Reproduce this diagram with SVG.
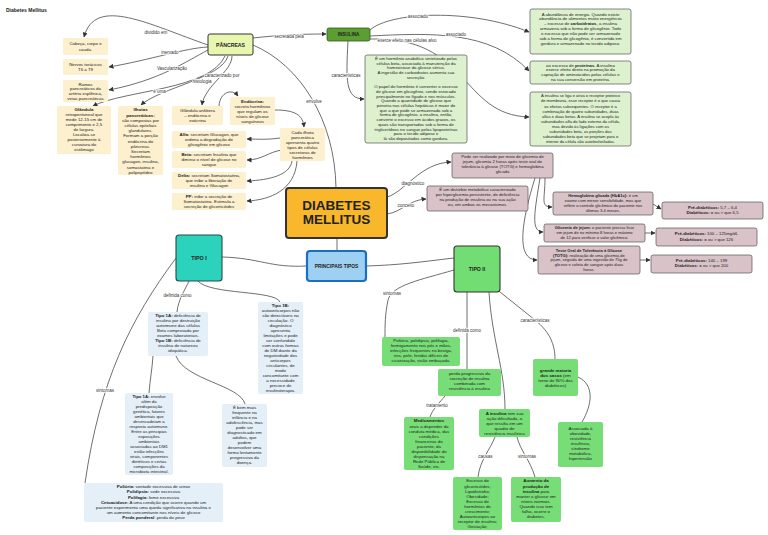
<svg xmlns="http://www.w3.org/2000/svg" width="768" height="535" viewBox="0 0 768 535">
<defs>
<marker id="ar" viewBox="0 0 10 10" refX="9" refY="5" markerWidth="5" markerHeight="5" markerUnits="userSpaceOnUse" orient="auto">
<path d="M0,0 L10,5 L0,10 z" fill="#333"/>
</marker>
<style>
text{font-family:"Liberation Sans",Arial,sans-serif;fill:#222}
.c{fill:none;stroke:#4a4a4a;stroke-width:0.8}
.ca{fill:none;stroke:#4a4a4a;stroke-width:0.8;marker-end:url(#ar)}
.lbl{font-size:4.5px;text-anchor:middle;fill:#333;stroke:#fff;stroke-width:1.6px;paint-order:stroke;stroke-linejoin:round}
.beige{fill:#fcf0cf}
.lg{fill:#ddf1cf;stroke:#555;stroke-width:0.7}
.mv{fill:#d9c3c8;stroke:#555;stroke-width:0.7}
.lb{fill:#e4eff8}
.gr{fill:#77dd77}
.t44{font-size:4.4px;text-anchor:middle}
.t43{font-size:4.3px;text-anchor:middle}
.t41{font-size:4.1px;text-anchor:middle}
.b{font-weight:bold}
</style>
</defs>
<rect width="768" height="535" fill="#fff"/>
<text x="6" y="11.5" font-size="5" font-weight="bold">Diabetes Mellitus</text>

<g id="connectors">
<path class="ca" d="M208,45 C150,25 95,-5 84,37"/>
<path class="ca" d="M208,47 C185,48 150,60 109,67"/>
<path class="ca" d="M208,50 C185,62 160,80 109,90"/>
<path class="ca" d="M225,56 C210,90 125,90 93,106"/>
<path class="ca" d="M228,56 C222,78 160,88 141,105"/>
<path class="ca" d="M232,56 C232,72 205,85 202,105"/>
<path class="ca" d="M219,106 C220,92 232,88 238,96"/>
<path class="ca" d="M275,110 C295,110 303,115 304,127"/>
<path class="ca" d="M280,138 C265,140 260,139 247,139"/>
<path class="ca" d="M282,150 C268,152 262,160 247,160"/>
<path class="ca" d="M292,161 C290,175 270,180 247,181"/>
<path class="ca" d="M297,161 C295,190 270,200 247,201"/>
<path class="c" d="M253,45 C300,65 335,120 336,188"/>
<path class="ca" d="M253,38 C280,35 300,34 326,34"/>
<path class="ca" d="M370,30 C390,12 470,8 529,32"/>
<path class="ca" d="M370,36 C430,33 490,30 529,71"/>
<path class="ca" d="M370,39 C470,36 460,115 529,117"/>
<path class="ca" d="M348,41 C346,80 345,99 364,99"/>
<path class="ca" d="M387,197 C405,192 420,163 451,162"/>
<path class="ca" d="M387,214 C402,212 408,200 426,199"/>
<path class="ca" d="M545,178 C545,200 540,207 552,207"/>
<path class="ca" d="M540,178 C535,210 530,232 543,232"/>
<path class="ca" d="M535,178 C522,220 515,260 537,260"/>
<path class="ca" d="M653,204 L661,209"/>
<path class="ca" d="M645,233 L655,233"/>
<path class="ca" d="M640,260 L650,260"/>
<path class="c" d="M337,238 L337,251"/>
<path class="c" d="M307,266 C270,268 260,258 222,257"/>
<path class="c" d="M366,266 C400,265 420,262 454,258"/>
<path class="c" d="M189,281 C185,290 178,300 177,312"/>
<path class="c" d="M198,281 C210,295 275,290 280,302"/>
<path class="c" d="M153,356 C152,370 150,380 149,393"/>
<path class="c" d="M176,356 C185,380 240,385 245,404"/>
<path class="c" d="M176,258 C130,320 100,380 85,483"/>
<path class="c" d="M454,270 C420,280 392,285 388,300 C385,315 385,325 385,337"/>
<path class="c" d="M467,292 L467,369"/>
<path class="c" d="M489,292 C492,340 505,370 505,409"/>
<path class="c" d="M500,292 L535,320 C550,332 555,345 555,359"/>
<path class="c" d="M578,377 C595,385 592,405 582,422"/>
<path class="c" d="M445,396 C440,402 432,410 430,417"/>
<path class="c" d="M495,437 C490,450 480,460 478,477"/>
<path class="c" d="M517,437 C520,450 530,460 535,477"/>
</g>

<g id="link-labels">
<text class="lbl" x="156" y="33.5">dividido em</text>
<text class="lbl" x="170" y="53.5">inervado</text>
<text class="lbl" x="172" y="69.5">Vascularização</text>
<text class="lbl" x="222" y="76.5">caracterizado por</text>
<text class="lbl" x="202" y="82.5">histologia</text>
<text class="lbl" x="159.5" y="92.5">é uma</text>
<text class="lbl" x="289" y="37.5">secretada pela</text>
<text class="lbl" x="314" y="102.5">envolve</text>
<text class="lbl" x="418" y="17.5">associado</text>
<text class="lbl" x="456" y="35.5">associado</text>
<text class="lbl" x="407" y="41.5">exerce efeito nas células alvo</text>
<text class="lbl" x="346" y="76.5">características</text>
<text class="lbl" x="413" y="184.5">diagnóstico</text>
<text class="lbl" x="406" y="206.5">conceito</text>
<text class="lbl" x="177.5" y="296.5">definida como</text>
<text class="lbl" x="105" y="391.5">sintomas</text>
<text class="lbl" x="392" y="294.5">sintomas</text>
<text class="lbl" x="467" y="331.5">definida como</text>
<text class="lbl" x="535" y="321.5">características</text>
<text class="lbl" x="437" y="407">tratamento</text>
<text class="lbl" x="485.5" y="457.5">causas</text>
<text class="lbl" x="527" y="457.5">sintomas</text>
</g>

<g id="pancreas">
<rect x="208" y="34" width="45" height="21" rx="2" fill="#e8f7b0" stroke="#333" stroke-width="1"/>
<text x="230.5" y="46.5" font-size="5.2" font-weight="bold" text-anchor="middle">PÂNCREAS</text>
</g>
<g id="insulina">
<rect x="327" y="28" width="43" height="13" rx="2" fill="#5c9e31" stroke="#2d5a17" stroke-width="0.8"/>
<text x="348.5" y="36.3" font-size="4.6" font-weight="bold" text-anchor="middle" fill="#1a2a10">INSULINA</text>
</g>

<g id="cabeca">
<rect class="beige" x="63" y="38" width="45" height="17" rx="1.5"/>
<text class="t44"><tspan x="85.5" y="45.3">Cabeça, corpo e</tspan><tspan x="85.5" y="50.5">cauda.</tspan></text>
</g>
<g id="nervos">
<rect class="beige" x="63" y="59" width="45" height="16" rx="1.5"/>
<text class="t44"><tspan x="85.5" y="66">Nervos torácicos</tspan><tspan x="85.5" y="71.2">T6 a T9</tspan></text>
</g>
<g id="ramos">
<rect class="beige" x="63" y="80" width="45" height="22" rx="1.5"/>
<text class="t44"><tspan x="85.5" y="85.5">Ramos</tspan><tspan x="85.5" y="90.3">pancreáticos da</tspan><tspan x="85.5" y="95.1">artéria esplênica,</tspan><tspan x="85.5" y="99.9">veias pancreáticas</tspan></text>
</g>
<g id="retroperitoneal">
<rect class="beige" x="57" y="106" width="54" height="48" rx="1.5"/>
<text class="t44"><tspan x="84" y="111.3" class="b">Glândula</tspan><tspan x="84" y="116.3">retroperitoneal que</tspan><tspan x="84" y="121.3">mede 12-15 cm de</tspan><tspan x="84" y="126.3">comprimento e 2,5</tspan><tspan x="84" y="131.3">de largura.</tspan><tspan x="84" y="136.3">Localiza-se</tspan><tspan x="84" y="141.3">posteriormente à</tspan><tspan x="84" y="146.3">curvatura do</tspan><tspan x="84" y="151.3">estômago</tspan></text>
</g>
<g id="ilhotas">
<rect class="beige" x="118" y="106" width="45" height="69" rx="1.5"/>
<text class="t44"><tspan x="140.5" y="111.3" class="b">Ilhotas</tspan><tspan x="140.5" y="116.5" class="b">pancreáticas:</tspan><tspan x="140.5" y="121.7">são compostas por</tspan><tspan x="140.5" y="126.9">células epiteliais</tspan><tspan x="140.5" y="132.1">glandulares.</tspan><tspan x="140.5" y="137.3">Formam a porção</tspan><tspan x="140.5" y="142.5">endócrina do</tspan><tspan x="140.5" y="147.7">pâncreas.</tspan><tspan x="140.5" y="152.9">Secretam</tspan><tspan x="140.5" y="158.1">hormônios</tspan><tspan x="140.5" y="163.3">glucagon, insulina,</tspan><tspan x="140.5" y="168.5">somastatina e</tspan><tspan x="140.5" y="173.7">polipeptídeo</tspan></text>
</g>
<g id="anfotera">
<rect class="beige" x="172" y="106" width="51" height="19" rx="1.5"/>
<text class="t44"><tspan x="197.5" y="111.8">Glândula anfótera</tspan><tspan x="197.5" y="116.8">– endócrina e</tspan><tspan x="197.5" y="121.8">exócrina</tspan></text>
</g>
<g id="endocrina">
<rect class="beige" x="230" y="97" width="45" height="28" rx="1.5"/>
<text class="t44"><tspan x="252.5" y="102.6" class="b">Endócrina:</tspan><tspan x="252.5" y="107.6">secreta hormônios</tspan><tspan x="252.5" y="112.6">que regulam os</tspan><tspan x="252.5" y="117.6">níveis de glicose</tspan><tspan x="252.5" y="122.6">sanguíneos</tspan></text>
</g>
<g id="cada-ilhota">
<rect class="beige" x="280" y="128" width="45" height="33" rx="1.5"/>
<text class="t44"><tspan x="302.5" y="133.6">Cada ilhota</tspan><tspan x="302.5" y="138.6">pancreática</tspan><tspan x="302.5" y="143.6">apresenta quatro</tspan><tspan x="302.5" y="148.6">tipos de células</tspan><tspan x="302.5" y="153.6">secretoras de</tspan><tspan x="302.5" y="158.6">hormônios</tspan></text>
</g>
<g id="alfa">
<rect class="beige" x="172" y="131" width="74" height="17" rx="1.5"/>
<text class="t44"><tspan x="209" y="136"><tspan class="b">Alfa:</tspan> secretam Glucagon, que</tspan><tspan x="209" y="141">ordena a degradação de</tspan><tspan x="209" y="146">glicogênio em glicose</tspan></text>
</g>
<g id="beta">
<rect class="beige" x="172" y="151" width="74" height="17" rx="1.5"/>
<text class="t44"><tspan x="209" y="156"><tspan class="b">Beta:</tspan> secretam Insulina que</tspan><tspan x="209" y="161">diminui o nível de glicose no</tspan><tspan x="209" y="166">sangue</tspan></text>
</g>
<g id="delta">
<rect class="beige" x="172" y="172" width="74" height="17" rx="1.5"/>
<text class="t44"><tspan x="209" y="177"><tspan class="b">Delta:</tspan> secretam Somatostatina,</tspan><tspan x="209" y="182">que inibe a liberação de</tspan><tspan x="209" y="187">insulina e Glucagon</tspan></text>
</g>
<g id="pp">
<rect class="beige" x="172" y="193" width="74" height="17" rx="1.5"/>
<text class="t44"><tspan x="209" y="198"><tspan class="b">PP:</tspan> inibe a secreção de</tspan><tspan x="209" y="203">Somatostatina. Estimula a</tspan><tspan x="209" y="208">secreção de glicorticóides</tspan></text>
</g>

<g id="insulina-desc">
<rect class="lg" x="365" y="55" width="102" height="88" rx="2"/>
<text class="t43"><tspan x="416" y="60">É um hormônio anabólico sintetizado pelas</tspan><tspan x="416" y="64.7">células beta, associada à manutenção da</tspan><tspan x="416" y="69.4">homeostase da glicose sérica.</tspan><tspan x="416" y="74.1">A ingestão de carboidratos aumenta sua</tspan><tspan x="416" y="78.8">secreção.</tspan><tspan x="416" y="88.2">O papel do hormônio é converter o excesso</tspan><tspan x="416" y="92.9">de glicose em glicogênio, sendo estocado</tspan><tspan x="416" y="97.6">principalmente no fígado e nos músculos.</tspan><tspan x="416" y="102.3">Quando  a quantidade de glicose que</tspan><tspan x="416" y="107">penetra nas células hepáticas é maior do</tspan><tspan x="416" y="111.7">que a que pode se armazenada sob a</tspan><tspan x="416" y="116.4">forma de glicogênio, a insulina, então,</tspan><tspan x="416" y="121.1">converte o excesso em ácidos graxos, os</tspan><tspan x="416" y="125.8">quais são transportados sob a forma de</tspan><tspan x="416" y="130.5">triglicerídeos no sangue pelas lipoproteínas</tspan><tspan x="416" y="135.2">para o tecido adiposo e</tspan><tspan x="416" y="139.9">lá são depositados como gordura.</tspan></text>
</g>
<g id="energia">
<rect class="lg" x="530" y="9" width="101" height="45" rx="2"/>
<text class="t43"><tspan x="580.5" y="15.5">A abundância de energia. Quando existe</tspan><tspan x="580.5" y="20.4">abundância de alimentos muito energéticos</tspan><tspan x="580.5" y="25.3">– excesso de <tspan class="b">carboidratos</tspan>, a insulina</tspan><tspan x="580.5" y="30.2">armazena sob a forma de glicogênio. Todo</tspan><tspan x="580.5" y="35.1">o excesso que não pode ser armazenado</tspan><tspan x="580.5" y="40">sob a forma de glicogênio, é convertido em</tspan><tspan x="580.5" y="44.9">gordura e armazenado no tecido adiposo.</tspan></text>
</g>
<g id="proteinas">
<rect class="lg" x="530" y="61" width="101" height="23" rx="2"/>
<text class="t43"><tspan x="580.5" y="66.6">ao excesso de  <tspan class="b">proteínas</tspan>. A insulina</tspan><tspan x="580.5" y="71.4">exerce efeito direto na promoção da</tspan><tspan x="580.5" y="76.2">captação de aminoácidos pelas células e</tspan><tspan x="580.5" y="81">na sua conversão em proteína.</tspan></text>
</g>
<g id="receptor">
<rect class="lg" x="530" y="92" width="101" height="54" rx="2"/>
<text class="t41"><tspan x="580.5" y="97.3">A insulina se liga e ativa o receptor proteico</tspan><tspan x="580.5" y="102.4">de membrana, esse receptor é o que causa</tspan><tspan x="580.5" y="107.5">os efeitos subsequentes. O receptor é a</tspan><tspan x="580.5" y="112.6">combinação de quatro subunidades, duas</tspan><tspan x="580.5" y="117.7">alfas e duas betas. A insulina se acopla às</tspan><tspan x="580.5" y="122.8">subunidades alfa do lado externo da célula,</tspan><tspan x="580.5" y="127.9">mas devido às ligações com as</tspan><tspan x="580.5" y="133">subunidades beta, as porções das</tspan><tspan x="580.5" y="138.1">subunidades beta que se projetam para o</tspan><tspan x="580.5" y="143.2">interior da célula são autofosforiladas.</tspan></text>
</g>

<g id="diabetes-mellitus">
<rect x="286" y="188" width="101" height="50" rx="3" fill="#f9b82b" stroke="#333" stroke-width="2"/>
<text x="336.5" y="210" font-size="13.5" font-weight="bold" text-anchor="middle" fill="#fff">DIABETES</text>
<text x="336.5" y="224" font-size="13.5" font-weight="bold" text-anchor="middle" fill="#fff">MELLITUS</text>
</g>
<g id="diagnostico">
<rect class="mv" x="452" y="153" width="101" height="25" rx="2"/>
<text class="t43"><tspan x="502.5" y="158">Pode ser realizado por meio de glicemia de</tspan><tspan x="502.5" y="163">jejum, glicemia 2 horas após teste oral de</tspan><tspan x="502.5" y="168">tolerância à glicose (TOTG) e hemoglobina</tspan><tspan x="502.5" y="173">glicada</tspan></text>
</g>
<g id="conceito">
<rect class="mv" x="427" y="186" width="101" height="25" rx="2"/>
<text class="t43"><tspan x="477.5" y="191.4">É um distúrbio metabólico caracterizado</tspan><tspan x="477.5" y="196.4">por hiperglicemia persistente, de deficiência</tspan><tspan x="477.5" y="201.4">na produção de insulina ou na sua ação</tspan><tspan x="477.5" y="206.4">ou, em ambos os mecanismos.</tspan></text>
</g>
<g id="hba1c">
<rect class="mv" x="553" y="192" width="100" height="23" rx="2"/>
<text class="t41"><tspan x="603" y="197.2"><tspan class="b">Hemoglobina glicada (HbA1c):</tspan> é um</tspan><tspan x="603" y="202.1">exame com menor sensibilidade, mas que</tspan><tspan x="603" y="207">reflete o controle glicêmico do paciente nos</tspan><tspan x="603" y="211.9">últimos 3-4 meses.</tspan></text>
</g>
<g id="hba1c-valores">
<rect class="mv" x="662" y="202" width="101" height="17" rx="2"/>
<text class="t43"><tspan x="712.5" y="209"><tspan class="b">Pré-diabéticos:</tspan> 5,7 – 6,4</tspan><tspan x="712.5" y="214.3"><tspan class="b">Diabéticos:</tspan> = ou &gt; que 6,5</tspan></text>
</g>
<g id="glicemia-jejum">
<rect class="mv" x="544" y="224" width="101" height="18" rx="2"/>
<text class="t41"><tspan x="594.5" y="229.4"><tspan class="b">Glicemia de jejum:</tspan> o paciente precisa ficar</tspan><tspan x="594.5" y="234.3">em jejum de no mínimo 8 horas e máximo</tspan><tspan x="594.5" y="239.2">de 12 para verificar o valor glicêmico.</tspan></text>
</g>
<g id="jejum-valores">
<rect class="mv" x="656" y="228" width="101" height="18" rx="2"/>
<text class="t43"><tspan x="706.5" y="235.3"><tspan class="b">Pré-diabéticos:</tspan> 100 – 125mg/dL</tspan><tspan x="706.5" y="240.6"><tspan class="b">Diabéticos:</tspan> = ou &gt; que 126</tspan></text>
</g>
<g id="totg">
<rect class="mv" x="538" y="246" width="102" height="28" rx="2"/>
<text class="t41"><tspan x="589" y="251.6" class="b">Teste Oral de Tolerância à Glicose</tspan><tspan x="589" y="256.5"><tspan class="b">(TOTG):</tspan> realização de uma glicemia de</tspan><tspan x="589" y="261.4">jejum, seguida de uma ingestão de 75g de</tspan><tspan x="589" y="266.3">glicose e coleta de sangue após duas</tspan><tspan x="589" y="271.2">horas.</tspan></text>
</g>
<g id="totg-valores">
<rect class="mv" x="651" y="255" width="101" height="18" rx="2"/>
<text class="t43"><tspan x="701.5" y="262"><tspan class="b">Pré-diabéticos:</tspan> 140 – 199</tspan><tspan x="701.5" y="267.3"><tspan class="b">Diabéticos:</tspan> = ou &gt; que 200</tspan></text>
</g>

<g id="principais-tipos">
<rect x="307" y="251" width="59" height="30" rx="3" fill="#9ed0f2" stroke="#1a6fbf" stroke-width="2.2"/>
<text x="336.5" y="267.8" font-size="4.9" font-weight="bold" text-anchor="middle" fill="#1d2b3a">PRINCIPAIS TIPOS</text>
</g>
<g id="tipo-1">
<rect x="176" y="235" width="46" height="46" rx="3" fill="#2bd3bd" stroke="#2a4a44" stroke-width="1.1"/>
<text x="199" y="259.8" font-size="5.4" font-weight="bold" text-anchor="middle">TIPO I</text>
</g>
<g id="tipo-2">
<rect x="454" y="246" width="46" height="46" rx="3" fill="#72dd72" stroke="#333" stroke-width="1.1"/>
<text x="477" y="270.8" font-size="5.2" font-weight="bold" text-anchor="middle">TIPO II</text>
</g>

<g id="tipo1-definicao">
<rect class="lb" x="148" y="312" width="60" height="44" rx="2"/>
<text class="t44"><tspan x="178" y="317"><tspan class="b">Tipo 1A:</tspan> deficiência de</tspan><tspan x="178" y="322">insulina por destruição</tspan><tspan x="178" y="327">autoimune das células</tspan><tspan x="178" y="332">Beta comprovada por</tspan><tspan x="178" y="337">exames laboratoriais.</tspan><tspan x="178" y="342"><tspan class="b">Tipo 1B:</tspan> deficiência de</tspan><tspan x="178" y="347">insulina de natureza</tspan><tspan x="178" y="352">idiopática.</tspan></text>
</g>
<g id="tipo1b">
<rect class="lb" x="258" y="302" width="45" height="92" rx="2"/>
<text class="t44"><tspan x="280.5" y="306.8" class="b">Tipo 1B:</tspan><tspan x="280.5" y="311.8">autoanticorpos não</tspan><tspan x="280.5" y="316.8">são detectáveis na</tspan><tspan x="280.5" y="321.8">circulação. O</tspan><tspan x="280.5" y="326.8">diagnóstico</tspan><tspan x="280.5" y="331.8">apresenta</tspan><tspan x="280.5" y="336.8">limitações e pode</tspan><tspan x="280.5" y="341.8">ser confundido</tspan><tspan x="280.5" y="346.8">com outras formas</tspan><tspan x="280.5" y="351.8">de DM diante da</tspan><tspan x="280.5" y="356.8">negatividade dos</tspan><tspan x="280.5" y="361.8">anticorpos</tspan><tspan x="280.5" y="366.8">circulantes, de</tspan><tspan x="280.5" y="371.8">modo</tspan><tspan x="280.5" y="376.8">concomitante com</tspan><tspan x="280.5" y="381.8">a necessidade</tspan><tspan x="280.5" y="386.8">precoce de</tspan><tspan x="280.5" y="391.8">insulinoterapia.</tspan></text>
</g>
<g id="tipo1a">
<rect class="lb" x="125" y="393" width="48" height="82" rx="2"/>
<text class="t43"><tspan x="149" y="398"><tspan class="b">Tipo 1A:</tspan>  envolve</tspan><tspan x="149" y="403">além da</tspan><tspan x="149" y="408">predisposição</tspan><tspan x="149" y="413">genética, fatores</tspan><tspan x="149" y="418">ambientais que</tspan><tspan x="149" y="423">desencadeiam a</tspan><tspan x="149" y="428">resposta autoimune.</tspan><tspan x="149" y="433">Entre as principais</tspan><tspan x="149" y="438">exposições</tspan><tspan x="149" y="443">ambientais</tspan><tspan x="149" y="448">associadas ao DM1</tspan><tspan x="149" y="453">estão infecções</tspan><tspan x="149" y="458">virais, componentes</tspan><tspan x="149" y="463">dietéticos e certas</tspan><tspan x="149" y="468">composições da</tspan><tspan x="149" y="473">microbiota intestinal.</tspan></text>
</g>
<g id="tipo1-frequencia">
<rect class="lb" x="222" y="404" width="45" height="63" rx="2"/>
<text class="t44"><tspan x="244.5" y="409">É bem mais</tspan><tspan x="244.5" y="414">frequente na</tspan><tspan x="244.5" y="419">infância e na</tspan><tspan x="244.5" y="424">adolescência, mas</tspan><tspan x="244.5" y="429">pode ser</tspan><tspan x="244.5" y="434">diagnosticado em</tspan><tspan x="244.5" y="439">adultos, que</tspan><tspan x="244.5" y="444">podem</tspan><tspan x="244.5" y="449">desenvolver uma</tspan><tspan x="244.5" y="454">forma lentamente</tspan><tspan x="244.5" y="459">progressiva da</tspan><tspan x="244.5" y="464">doença.</tspan></text>
</g>
<g id="tipo1-sintomas">
<rect class="lb" x="84" y="483" width="139" height="39" rx="2"/>
<text class="t44"><tspan x="153.5" y="488.3"><tspan class="b">Poliúria:</tspan> vontade excessiva de urinar</tspan><tspan x="153.5" y="493.4"><tspan class="b">Polidipsia:</tspan> sede excessiva</tspan><tspan x="153.5" y="498.5"><tspan class="b">Polifagia:</tspan> fome excessiva</tspan><tspan x="153.5" y="503.6"><tspan class="b">Cetoacidose:</tspan>  A uma condição que ocorre quando um</tspan><tspan x="153.5" y="508.7">paciente experimenta uma queda significativa na insulina e</tspan><tspan x="153.5" y="513.8">um aumento concomitante nos níveis de glicose</tspan><tspan x="153.5" y="518.9"><tspan class="b">Perda ponderal</tspan>: perda do peso</tspan></text>
</g>

<g id="tipo2-sintomas">
<rect class="gr" x="382" y="337" width="78" height="29" rx="2"/>
<text class="t44"><tspan x="421" y="342">Poliúria, polidipsia, polifagia,</tspan><tspan x="421" y="347">formigamento nos pés e mãos,</tspan><tspan x="421" y="352">infecções frequentes na bexiga,</tspan><tspan x="421" y="357">rins, pele, feridas difíceis de</tspan><tspan x="421" y="362">cicatrização, visão embaçada.</tspan></text>
</g>
<g id="tipo2-definicao">
<rect class="gr" x="438" y="369" width="63" height="27" rx="2"/>
<text class="t44"><tspan x="469.5" y="375.2">perda progressiva da</tspan><tspan x="469.5" y="380.2">secreção de insulina</tspan><tspan x="469.5" y="385.2">combinada com</tspan><tspan x="469.5" y="390.2">resistência à insulina</tspan></text>
</g>
<g id="medicamentos">
<rect class="gr" x="404" y="417" width="50" height="53" rx="2"/>
<text class="t44"><tspan x="429" y="422.4" class="b">Medicamentos</tspan><tspan x="429" y="427.5">orais a depender da</tspan><tspan x="429" y="432.6">conduta médica, das</tspan><tspan x="429" y="437.7">condições</tspan><tspan x="429" y="442.8">financeiras do</tspan><tspan x="429" y="447.9">paciente, da</tspan><tspan x="429" y="453">disponibilidade do</tspan><tspan x="429" y="458.1">dispensação na</tspan><tspan x="429" y="463.2">Rede Pública de</tspan><tspan x="429" y="468.3">Saúde, etc.</tspan></text>
</g>
<g id="resistencia">
<rect class="gr" x="479" y="409" width="51" height="28" rx="2"/>
<text class="t44"><tspan x="504.5" y="415"><tspan class="b">A insulina</tspan> tem sua</tspan><tspan x="504.5" y="420">ação dificultada, o</tspan><tspan x="504.5" y="425">que resulta em um</tspan><tspan x="504.5" y="430">quadro de</tspan><tspan x="504.5" y="435">resistência insulínica</tspan></text>
</g>
<g id="causas">
<rect class="gr" x="453" y="477" width="49" height="53" rx="2"/>
<text class="t44"><tspan x="477.5" y="482.4">Excesso de</tspan><tspan x="477.5" y="487.5">glicorticóides;</tspan><tspan x="477.5" y="492.6">Lipodistrofia;</tspan><tspan x="477.5" y="497.7">Obesidade;</tspan><tspan x="477.5" y="502.8">Excesso de</tspan><tspan x="477.5" y="507.9">hormônios do</tspan><tspan x="477.5" y="513">crescimento;</tspan><tspan x="477.5" y="518.1">Autoanticorpos ao</tspan><tspan x="477.5" y="523.2">receptor de insulina;</tspan><tspan x="477.5" y="528.3">Gestação;</tspan></text>
</g>
<g id="tipo2-sintomas-insulina">
<rect class="gr" x="511" y="477" width="50" height="45" rx="2"/>
<text class="t44"><tspan x="536" y="482.4" class="b">Aumento da</tspan><tspan x="536" y="487.5" class="b">produção de</tspan><tspan x="536" y="492.6"><tspan class="b">insulina</tspan>  para</tspan><tspan x="536" y="497.7">manter a glicose em</tspan><tspan x="536" y="502.8">níveis normais.</tspan><tspan x="536" y="507.9">Quando isso tem</tspan><tspan x="536" y="513">falha, ocorre o</tspan><tspan x="536" y="518.1">diabetes.</tspan></text>
</g>
<g id="maioria">
<rect class="gr" x="533" y="359" width="45" height="37" rx="2"/>
<text class="t44"><tspan x="555.5" y="371.6" class="b">grande maioria</tspan><tspan x="555.5" y="376.6"><tspan class="b">dos casos</tspan> (em</tspan><tspan x="555.5" y="381.6">torno de 90% dos</tspan><tspan x="555.5" y="386.6">diabéticos)</tspan></text>
</g>
<g id="associada">
<rect class="gr" x="558" y="422" width="45" height="45" rx="2"/>
<text class="t44"><tspan x="580.5" y="430">Associada à</tspan><tspan x="580.5" y="435">obesidade,</tspan><tspan x="580.5" y="440">resistência</tspan><tspan x="580.5" y="445">insulínica,</tspan><tspan x="580.5" y="450">síndrome</tspan><tspan x="580.5" y="455">metabólica,</tspan><tspan x="580.5" y="460">hipertensão</tspan></text>
</g>
</svg>
